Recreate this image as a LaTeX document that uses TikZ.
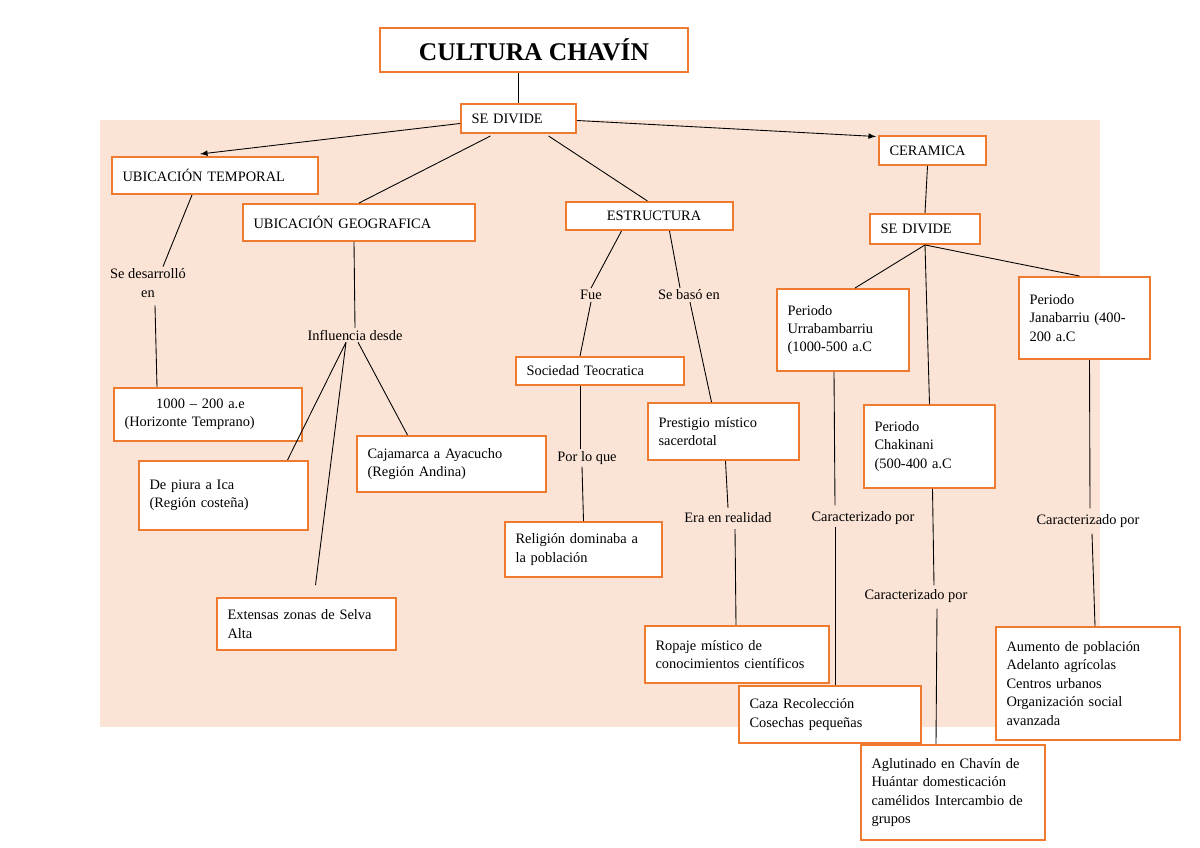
\documentclass[tikz,border=0pt]{standalone}
\usepackage{fontspec}
\setmainfont{Liberation Serif}
\usetikzlibrary{calc}
\definecolor{borde}{HTML}{EE7B30}
\definecolor{fondo}{HTML}{FBE4D6}
\tikzset{
  box/.style={draw=borde, line width=1.1pt, fill=white, align=left, inner sep=0pt,
    font=\fontsize{8.2}{10.5}\selectfont},
  lbl/.style={align=center, inner sep=1pt, font=\fontsize{8.2}{10.5}\selectfont},
  con/.style={line width=0.5pt},
}
% box: name, centre x, centre y, width, height, text
\newcommand{\caja}[6]{\node[box, minimum width={#4*0.02cm}, minimum height={#5*0.02cm},
  text width={#4*0.02cm-12pt}] (#1) at (#2,#3) {#6};}
\begin{document}
\begin{tikzpicture}[x=0.02cm,y=-0.02cm]
\useasboundingbox (0,0) rectangle (1200,848);
% background
\fill[fondo] (100,120) rectangle (1100,727);

% Title and first level
\node[draw=borde, line width=1.1pt, fill=white, minimum width=6.16cm, minimum height=0.88cm,
  font=\fontsize{14.5}{17}\selectfont\bfseries] (title) at (534,50) {CULTURA CHAVÍN};
\caja{sd}{518.5}{118.5}{115}{29}{SE DIVIDE}
\caja{ut}{215}{175.5}{206}{37}{UBICACIÓN TEMPORAL}
\caja{ug}{359}{222.5}{232}{37}{UBICACIÓN GEOGRAFICA}
\caja{es}{649.5}{216}{167}{28}{\hspace*{2.1em}ESTRUCTURA}
\caja{ce}{932.5}{150.5}{107}{29}{CERAMICA}
\caja{sd2}{925}{229}{110}{30}{SE DIVIDE}

% Ubicacion
\caja{t1}{208}{414.5}{188}{53}{\hspace*{2.2em}1000 -- 200 a.e\\(Horizonte Temprano)}
\caja{piura}{223.5}{495.5}{169}{69}{De piura a Ica\\(Región costeña)\\[1.2em]}
\caja{cajam}{451.5}{464}{189}{56}{Cajamarca a Ayacucho\\(Región Andina)}
\caja{ext}{306.5}{624}{179}{52}{Extensas zonas de Selva\\Alta}

% Estructura
\caja{soc}{600}{371}{168}{28}{Sociedad Teocratica}
\caja{rel}{583.5}{549.5}{157}{55}{Religión dominaba a\\la población}
\caja{pre}{723.5}{431.5}{151}{57}{Prestigio místico\\sacerdotal}
\caja{rop}{737}{654.5}{184}{57}{Ropaje místico de\\conocimientos científicos}

% Ceramica
\caja{pu}{843}{330}{132}{82}{Periodo\\Urrabambarriu\\(1000-500 a.C}
\caja{pc}{929.5}{446.5}{131}{83}{Periodo\\Chakinani\\(500-400 a.C}
\caja{pj}{1084.5}{318}{131}{82}{Periodo\\Janabarriu (400-\\200 a.C}
\caja{aum}{1088}{683.5}{184}{113}{Aumento de población\\Adelanto agrícolas\\Centros urbanos\\Organización social\\avanzada}
\caja{caza}{830}{714.5}{182}{57}{Caza Recolección\\Cosechas pequeñas}
\caja{agl}{953}{792.5}{184}{95}{Aglutinado en Chavín de\\Huántar domesticación\\camélidos Intercambio de\\grupos}

% Connector labels
\node[lbl] (l1) at (148,283) {Se desarrolló\\en};
\node[lbl] (l2) at (355,335) {Influencia desde};
\node[lbl] (l3) at (591,295) {Fue};
\node[lbl] (l4) at (689,295) {Se basó en};
\node[lbl] (l5) at (587,458) {Por lo que};
\node[lbl] (l6) at (728,518) {Era en realidad};
\node[lbl] (l7) at (863,518) {Caracterizado por};
\node[lbl] (l8) at (916,596) {Caracterizado por};
\node[lbl] (l9) at (1088,521) {Caracterizado por};

% Connectors
\draw[con] (title.south -| sd.north) -- (sd.north);
\draw[con,-latex] ($(sd.west)+(0,5)$) -- ($(ut.north)+(-15,-2)$);
\draw[con,-latex] ($(sd.east)+(0,2)$) -- ($(ce.west)+(-2,-14)$);
\draw[con] ($(sd.south)+(-28,2)$) -- (ug.north);
\draw[con] ($(sd.south)+(30,2)$) -- ($(es.north)+(-2,0)$);
\draw[con] ($(ce.south)+(-5,0)$) -- (sd2.north);
\draw[con] (sd2.south) -- ($(pu.north)+(12,0)$);
\draw[con] (sd2.south) -- ($(pc.north)+(0,0)$);
\draw[con] (sd2.south) -- ($(pj.north)+(-5,0)$);

\draw[con] ($(ut.south)+(-23,0)$) -- ($(l1.north)+(15,0)$);
\draw[con] ($(l1.south)+(7,6)$) -- ($(t1.north)+(-51,0)$);
\draw[con] ($(ug.south)+(-5,0)$) -- (l2.north);
\draw[con] ($(l2.south)+(-9,0)$) -- ($(piura.north)+(64,0)$);
\draw[con] ($(l2.south)+(-9,0)$) -- ($(ext.north)+(9,-12)$);
\draw[con] ($(l2.south)+(3,0)$) -- ($(cajam.north)+(-44,0)$);

\draw[con] ($(es.south)+(-28,0)$) -- (l3.north);
\draw[con] ($(es.south)+(20,0)$) -- ($(l4.north)+(-9,0)$);
\draw[con] (l3.south) -- ($(soc.north)+(-20,0)$);
\draw[con] ($(soc.south)+(-20,0)$) -- ($(l5.north)+(-7,0)$);
\draw[con] ($(l5.south)+(-5,0)$) -- ($(rel.north)+(0,0)$);
\draw[con] ($(l4.south)+(1,0)$) -- ($(pre.north)+(-12,0)$);
\draw[con] ($(pre.south)+(2,0)$) -- ($(l6.north)+(0,-3)$);
\draw[con] ($(l6.south)+(7,4)$) -- ($(rop.north)+(-1,0)$);

\draw[con] ($(pu.south)+(-9,0)$) -- ($(l7.north)+(-28,-4)$);
\draw[con] ($(l7.south)+(-28,0)$) -- ($(caza.north)+(5,0)$);
\draw[con] ($(pc.south)+(3,0)$) -- ($(l8.north)+(18,-2)$);
\draw[con] ($(l8.south)+(21,4)$) -- ($(agl.north)+(-17,0)$);
\draw[con] ($(pj.south)+(5,0)$) -- ($(l9.north)+(2,-4)$);
\draw[con] ($(l9.south)+(4,4)$) -- ($(aum.north)+(7,0)$);
\end{tikzpicture}
\end{document}
